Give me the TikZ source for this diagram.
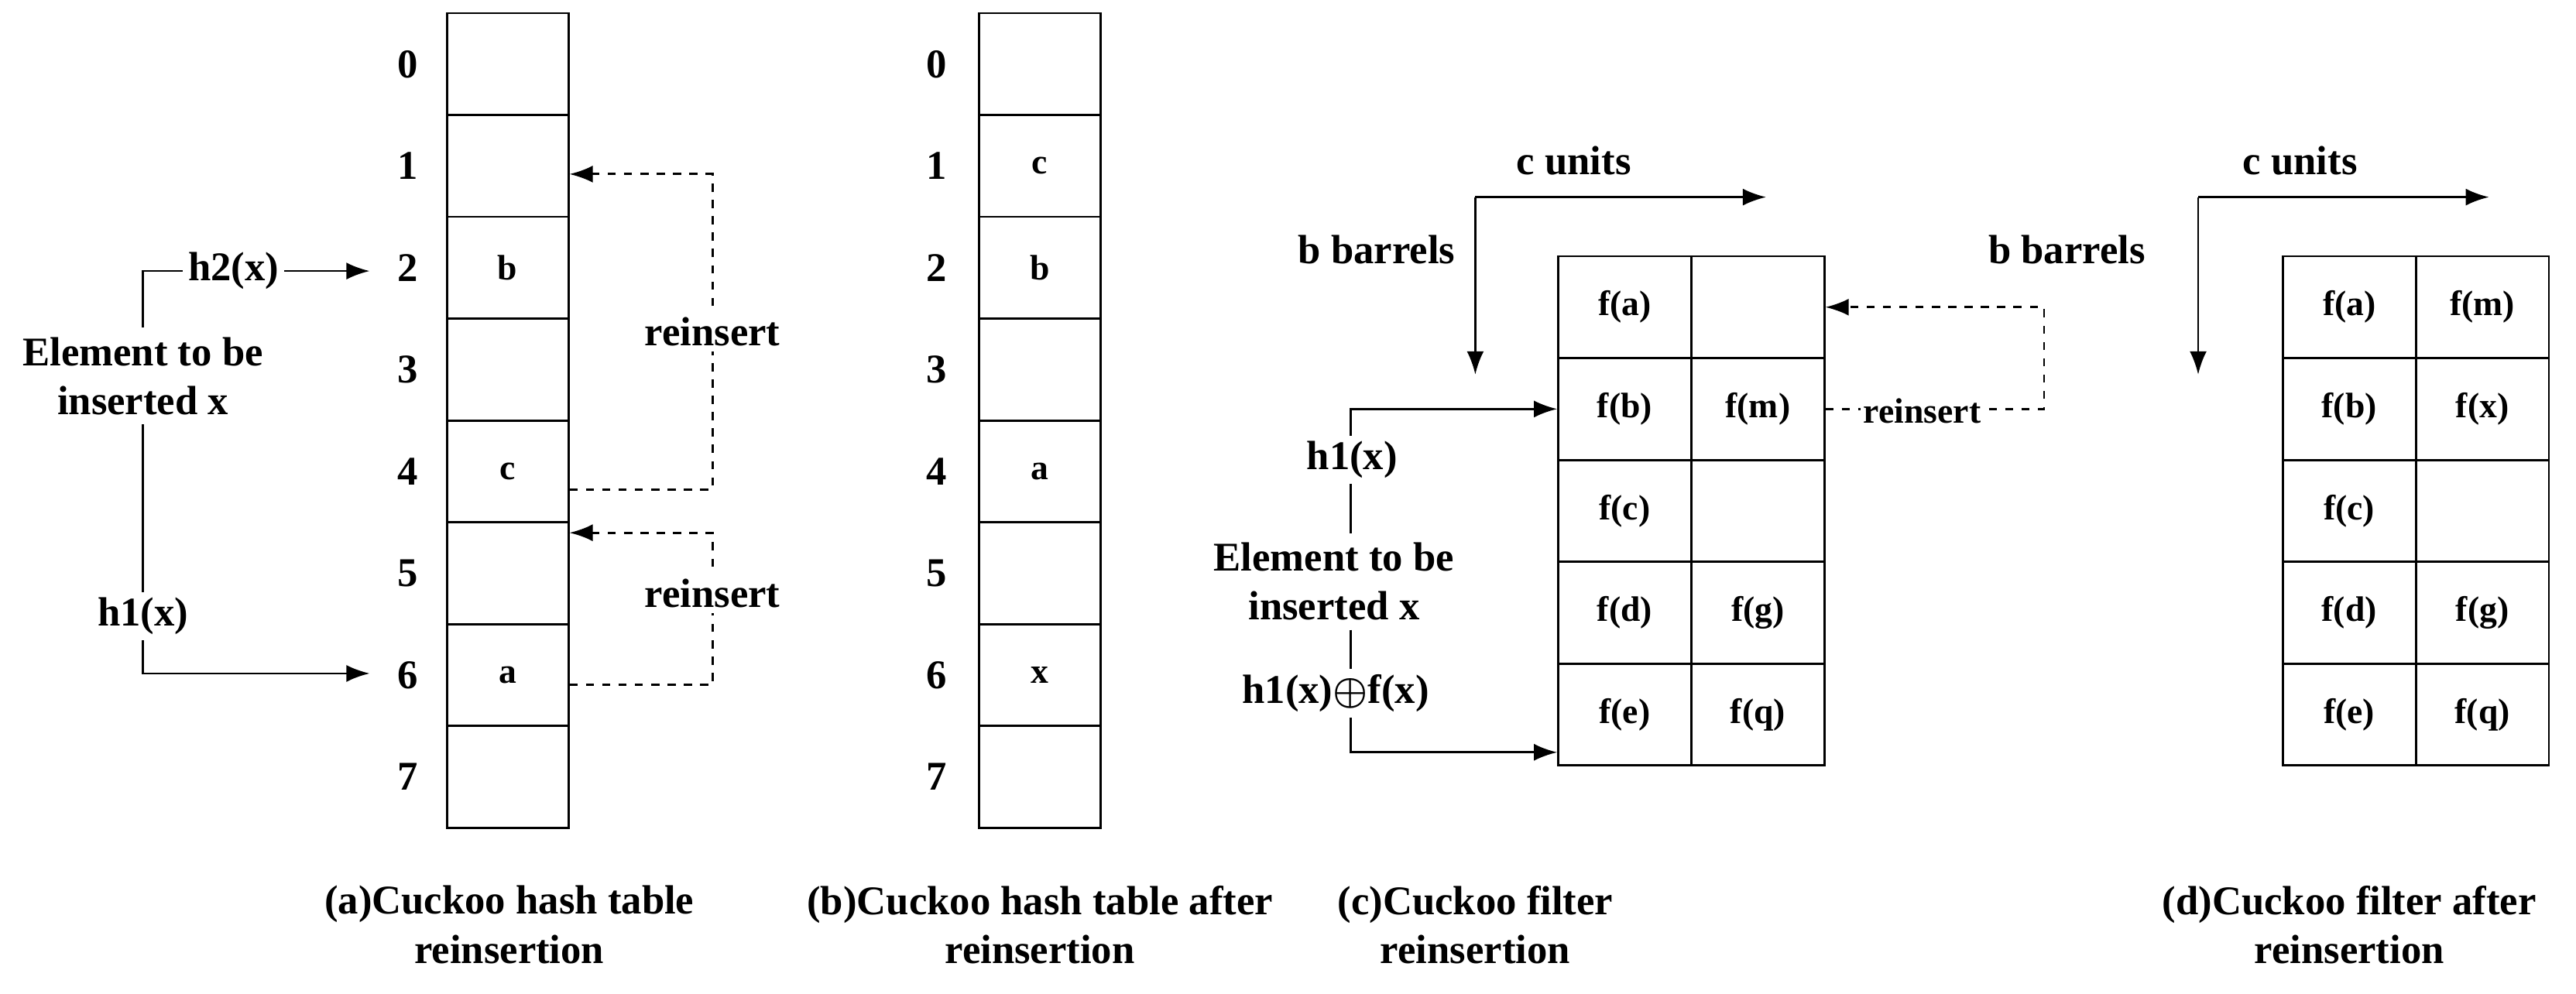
\documentclass[tikz,border=0pt]{standalone}
\usepackage{amsmath}
\usepackage{fontspec}
\setmainfont{Liberation Serif}
\usetikzlibrary{arrows.meta}
\tikzset{
  cell/.style={draw, thick, minimum width=74*0.02122cm, minimum height=62*0.02122cm, inner sep=0pt, font=\fontsize{13}{15}\selectfont\bfseries},
  fcell/.style={cell, minimum width=81*0.02122cm},
  lbl/.style={font=\fontsize{15}{18}\selectfont\bfseries, align=center},
  captxt/.style={font=\fontsize{15}{18}\selectfont\bfseries, align=center},
  arr/.style={thick, -{Latex[length=3mm, width=2.2mm]}},
  darr/.style={arr, dashed}
}
\begin{document}
\begin{tikzpicture}[x=0.02122cm, y=-0.02122cm]
  \useasboundingbox (0,0) rectangle (1568,605);
  % table (a) and (b)
  \foreach \i in {0,...,7} {
    \node[cell] (a\i) at (309,{39+62*\i}) {};
    \node[lbl] at (248,{39+62*\i}) {\i};
    \node[cell] (b\i) at (633,{39+62*\i}) {};
    \node[lbl] at (570,{39+62*\i}) {\i};
  }
  \node[font=\fontsize{13}{15}\selectfont\bfseries] at (a2) {b};
  \node[font=\fontsize{13}{15}\selectfont\bfseries] at (a4) {c};
  \node[font=\fontsize{13}{15}\selectfont\bfseries] at (a6) {a};
  \node[font=\fontsize{13}{15}\selectfont\bfseries] at (b1) {c};
  \node[font=\fontsize{13}{15}\selectfont\bfseries] at (b2) {b};
  \node[font=\fontsize{13}{15}\selectfont\bfseries] at (b4) {a};
  \node[font=\fontsize{13}{15}\selectfont\bfseries] at (b6) {x};

  \node[lbl] (elemA) at (87,229) {Element to be\\inserted x};
  \coordinate (ha2) at (225,165);
  \coordinate (ha6) at (225,410);
  \draw[arr] (elemA.north) |- node[pos=0.7, fill=white, inner sep=2pt, lbl]{h2(x)} (ha2);
  \draw[arr] (elemA.south) |- (ha6);
  \node[lbl, fill=white, inner sep=2pt] at (87,375) {h1(x)};
  \draw[darr] ([yshift=-11*0.02122cm]a4.east) -- ++(87,0) |- node[pos=0.25, fill=white, inner sep=2pt, lbl]{reinsert} ([yshift=-5*0.02122cm]a1.east);
  \draw[darr] ([yshift=-6*0.02122cm]a6.east) -- ++(87,0) |- node[pos=0.3, fill=white, inner sep=2pt, lbl]{reinsert} ([yshift=-7*0.02122cm]a5.north east);

  % filter (c) and (d)
  \foreach \r/\p/\q/\s in {0/f(a)//f(m), 1/f(b)/f(m)/f(x), 2/f(c)//, 3/f(d)/f(g)/f(g), 4/f(e)/f(q)/f(q)} {
    \node[fcell] (c\r l) at (989,{187+62*\r}) {\p};
    \node[fcell] (c\r r) at (1070,{187+62*\r}) {\q};
    \node[fcell] (d\r l) at (1430,{187+62*\r}) {\p};
    \node[fcell] (d\r r) at (1511,{187+62*\r}) {\s};
  }
  \coordinate (cc) at (898,120);
  \coordinate (dc) at (1338,120);
  \draw[arr] (cc) -- (1075,120);
  \draw[arr] (cc) -- (898,228);
  \draw[arr] (dc) -- (1515,120);
  \draw[arr] (dc) -- (1338,228);
  \node[lbl] at (958,98) {c units};
  \node[lbl] at (838,152) {b barrels};
  \node[lbl] at (1400,98) {c units};
  \node[lbl] at (1258,152) {b barrels};

  \node[lbl] (elemC) at (812,354) {Element to be\\inserted x};
  \draw[arr] (elemC.north -| 822,0) |- (c1l.west);
  \node[lbl, fill=white, inner sep=2pt] at (823,280) {h1(x)};
  \draw[arr] (elemC.south -| 822,0) |- ([yshift=-23*0.02122cm]c4l.west);
  \node[lbl, fill=white, inner sep=2pt] at (813,422) {h1(x)$\boldsymbol\oplus$f(x)};
  \draw[darr] (c1r.east) -- ++(133,0) |- (c0r.east);
  \node[lbl, fill=white, inner sep=1pt, font=\fontsize{13}{15}\selectfont\bfseries] at (1170,250) {reinsert};

  % captions
  \node[captxt] at (310,563) {(a)Cuckoo hash table\\reinsertion};
  \node[captxt] at (633,563) {(b)Cuckoo hash table after\\reinsertion};
  \node[captxt] at (898,563) {(c)Cuckoo filter\\reinsertion};
  \node[captxt] at (1430,563) {(d)Cuckoo filter after\\reinsertion};
\end{tikzpicture}
\end{document}
